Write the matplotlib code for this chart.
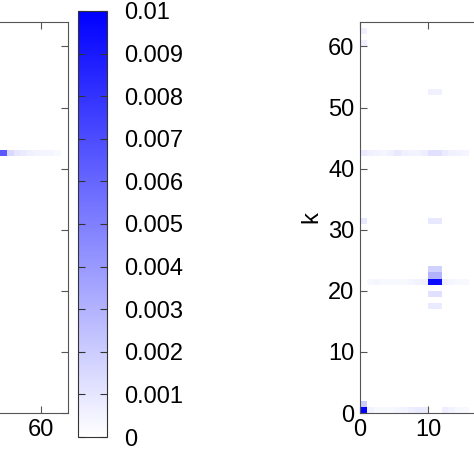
import numpy as np
import matplotlib.pyplot as plt
from matplotlib.colors import LinearSegmentedColormap

plt.rcParams['font.family'] = ['Liberation Sans', 'DejaVu Sans']

N = 64
# hot spots: (column, k, value)
left_cols = [53, 54, 55, 56, 57, 58, 59, 60, 61, 62]
left_rows = [42, 42, 42, 42, 42, 42, 42, 42, 42, 42]
left_vals = [0.006, 0.0065, 0.0015, 0.001, 0.0008, 0.0006, 0.0005, 0.0004, 0.0004, 0.0003]

right_cols = [0, 0, 10, 11, 10, 11, 10, 11, 10, 11, 10, 11, 10, 11, 10, 11, 10, 11,
              1, 2, 3, 4, 5, 6, 7, 8, 9, 12, 13, 14, 15,
              1, 2, 3, 4, 5, 6, 7, 8, 9, 12, 13, 14, 15,
              1, 2, 3, 4, 5, 6, 7, 8, 9, 12, 13, 14, 15,
              0, 0, 0, 0]
right_rows = [0, 1, 21, 21, 22, 22, 23, 23, 19, 19, 17, 17, 31, 31, 52, 52, 42, 42,
              21, 21, 21, 21, 21, 21, 21, 21, 21, 21, 21, 21, 21,
              42, 42, 42, 42, 42, 42, 42, 42, 42, 42, 42, 42, 42,
              0, 0, 0, 0, 0, 0, 0, 0, 0, 0, 0, 0, 0,
              31, 42, 60, 62]
right_vals = [0.01, 0.002, 0.0095, 0.0095, 0.003, 0.003, 0.0018, 0.0018, 0.0012, 0.0012,
              0.0008, 0.0008, 0.0009, 0.0009, 0.0006, 0.0006, 0.0012, 0.0012,
              0.0003, 0.0004, 0.0003, 0.0003, 0.0003, 0.0003, 0.0004, 0.0005, 0.0006, 0.0006, 0.0004, 0.0003, 0.0003,
              0.0006, 0.0005, 0.0004, 0.0006, 0.0009, 0.0006, 0.0005, 0.0005, 0.0007, 0.0008, 0.0006, 0.0005, 0.0004,
              0.0005, 0.0003, 0.0003, 0.0003, 0.0004, 0.0005, 0.0007, 0.0008, 0.0008, 0.0007, 0.0005, 0.0003, 0.0003,
              0.0009, 0.0008, 0.0006, 0.0006]


def make_grid(cols, rows, vals):
    z = np.zeros((N, N))
    for c, r, v in zip(cols, rows, vals):
        z[r, c] = v
    return z


cmap = LinearSegmentedColormap.from_list('wb', ['#ffffff', '#0000ff'])
edge = '#555555'
ticks = [0, 10, 20, 30, 40, 50, 60]

fig = plt.figure(figsize=(4.74, 4.74), dpi=100)
W, H = 474, 474
ax1 = fig.add_axes([(68 - 435) / W, (H - 413) / H, 435 / W, 391 / H])
ax2 = fig.add_axes([360 / W, (H - 413) / H, 435 / W, 391 / H])
cax = fig.add_axes([78 / W, (H - 437) / H, 29 / W, 426 / H])

z1 = make_grid(left_cols, left_rows, left_vals)
z2 = make_grid(right_cols, right_rows, right_vals)
edges = np.arange(N + 1)
m = ax1.pcolormesh(edges, edges, z1, cmap=cmap, vmin=0, vmax=0.01)
ax2.pcolormesh(edges, edges, z2, cmap=cmap, vmin=0, vmax=0.01)

for ax in (ax1, ax2):
    ax.set_xlim(0, 64)
    ax.set_ylim(0, 64)
    ax.set_xticks(ticks)
    ax.set_yticks(ticks)
    ax.tick_params(direction='in', top=True, right=True, labelsize=17,
                   color=edge, length=5, pad=4)
    for s in ax.spines.values():
        s.set_color(edge)
ax1.set_xticklabels(['' if t != 60 else '60' for t in ticks])
ax1.tick_params(labelleft=False)
ax2.set_xticklabels(['0', '10', '', '', '', '', ''])
ax2.set_ylabel('k', fontsize=17)

cb = fig.colorbar(m, cax=cax)
cb.set_ticks(np.linspace(0, 0.01, 11))
cb.set_ticklabels(['0', '0.001', '0.002', '0.003', '0.004', '0.005',
                   '0.006', '0.007', '0.008', '0.009', '0.01'])
cax.tick_params(direction='in', left=True, right=True, labelsize=17,
                color='#333333', length=5, pad=12)
cb.outline.set_edgecolor('#333333')

fig.savefig('out.png', dpi=100)
